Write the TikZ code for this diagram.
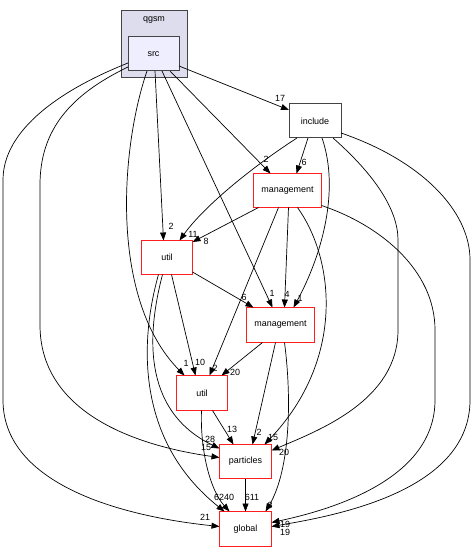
\documentclass[tikz,border=0pt]{standalone}
\usepackage{fontspec}
\setmainfont{Liberation Sans}
\usetikzlibrary{arrows.meta,calc}
\definecolor{clfill}{RGB}{221,221,238}
\definecolor{srcfill}{RGB}{238,238,255}
\definecolor{dkgray}{RGB}{68,68,68}
\definecolor{boxred}{RGB}{255,30,30}
\begin{document}
\begin{tikzpicture}[x=1bp,y=-1bp,
  every node/.style={font=\fontsize{9}{10}\selectfont, inner sep=0pt},
  redbox/.style={minimum width=51bp, minimum height=34bp, outer sep=0pt},
  redframe/.style={color=boxred, line width=1.2bp},
  plainbox/.style={draw=dkgray, line width=1bp, minimum width=52bp, minimum height=34bp},
  srcbox/.style={draw=dkgray, fill=srcfill, line width=1bp, minimum width=51bp, minimum height=34bp},
  clusterbox/.style={draw=dkgray, fill=clfill, line width=1bp, minimum width=66bp, minimum height=67bp},
  edge/.style={draw=black, line width=0.7bp, -{Triangle[length=8bp,width=6bp]}},
  lbl/.style={font=\fontsize{9}{10}\selectfont}
]
\path[use as bounding box] (0,0) rectangle (474,550);

% nodes
\node[clusterbox] (qgsm) at (154,44.5) {};
\node (qgsmlabel) at (154,20) {qgsm};
\node[srcbox] (src) at (153.5,54) {src};
\node[plainbox] (include) at (315,121) {include};
\node[redbox, minimum width=68bp] (mgmtA) at (287.5,190.5) {management};
\node[redbox] (utilA) at (167,257.5) {util};
\node[redbox, minimum width=68bp, minimum height=35bp] (mgmtB) at (280.5,325) {management};
\node[redbox, minimum height=35bp] (utilB) at (202,393) {util};
\node[redbox, minimum width=52bp] (particles) at (245.5,461.5) {particles};
\node[redbox, minimum width=52bp, minimum height=35bp] (global) at (245.5,529) {global};

% red frames
\draw[redframe] (mgmtA.north west) rectangle (mgmtA.south east);
\draw[redframe] (utilA.north west) rectangle (utilA.south east);
\draw[redframe] (mgmtB.north west) rectangle (mgmtB.south east);
\draw[redframe] (utilB.north west) rectangle (utilB.south east);
\draw[redframe] (particles.north west) rectangle (particles.south east);
\draw[redframe] (global.north west) rectangle (global.south east);

% edges
\draw[edge] ($(src)+(25.5,12)$) -- ($(include)+(-26,-11)$);
\draw[edge] ($(src)+(16.5,17)$) -- ($(mgmtA)+(-17,-17)$);
\draw[edge] ($(include)+(-7,17)$) -- ($(mgmtA)+(9,-17)$);
\draw[edge] ($(include)+(-18,17)$) .. controls (255,165) and (205,205) .. ($(utilA)+(12.5,-17)$);
\draw[edge] ($(mgmtA)+(-29,17)$) -- ($(utilA)+(25.5,-15.5)$);
\draw[edge] ($(src)+(1.5,17)$) -- ($(utilA)+(-3.5,-17)$);
\draw[edge] ($(src)+(8.5,17)$) -- ($(mgmtB)+(-8,-17.5)$);
\draw[edge] ($(mgmtA)+(1,17)$) -- ($(mgmtB)+(4,-17.5)$);
\draw[edge] ($(include)+(7,17)$) .. controls (340,190) and (322,255) .. ($(mgmtB)+(13,-17.5)$);
\draw[edge] ($(utilA)+(25.5,14.5)$) -- ($(mgmtB)+(-27,-17.5)$);
\draw[edge] ($(src)+(-6.5,17)$) .. controls (120,150) and (110,300) .. ($(utilB)+(-17.5,-17.5)$);
\draw[edge] ($(utilA)+(4.5,17)$) -- ($(utilB)+(-6.5,-17.5)$);
\draw[edge] ($(mgmtA)+(-9,17)$) -- ($(utilB)+(7.5,-17.5)$);
\draw[edge] ($(mgmtB)+(-18,17.5)$) -- ($(utilB)+(19.5,-17.5)$);
\draw[edge] ($(src)+(-25.5,13)$) .. controls (70,95) and (40,130) .. (40,185) -- (40,325) .. controls (40,410) and (130,445) .. ($(particles)+(-26,-4)$);
\draw[edge] ($(src)+(-25.5,9)$) .. controls (60,90) and (3,130) .. (3,180) -- (3,400) .. controls (3,480) and (110,515) .. ($(global)+(-26,-2.5)$);
\draw[edge] ($(utilA)+(-4.5,17)$) .. controls (148,330) and (140,410) .. ($(particles)+(-26,-13)$);
\draw[edge] ($(utilA)+(-8.5,17)$) .. controls (140,340) and (135,440) .. ($(global)+(-21,-17.5)$);
\draw[edge] ($(utilB)+(-0.5,17.5)$) .. controls (200,450) and (210,490) .. ($(global)+(-16,-17.5)$);
\draw[edge] ($(utilB)+(10.5,17.5)$) -- ($(particles)+(-12,-17)$);
\draw[edge] ($(mgmtB)+(-5,17.5)$) -- ($(particles)+(7,-17)$);
\draw[edge] ($(mgmtB)+(4,17.5)$) .. controls (292,400) and (290,470) .. ($(global)+(20,-17.5)$);
\draw[edge] ($(mgmtA)+(10,17)$) .. controls (335,260) and (345,360) .. ($(particles)+(19,-17)$);
\draw[edge] ($(include)+(18,17)$) .. controls (375,175) and (398,210) .. (398,240) -- (398,330) .. controls (398,400) and (320,430) .. ($(particles)+(26,-11)$);
\draw[edge] ($(mgmtA)+(34,15)$) .. controls (380,225) and (435,270) .. (435,330) -- (435,400) .. controls (435,480) and (330,510) .. ($(global)+(26,-6.5)$);
\draw[edge] ($(include)+(26,12)$) .. controls (420,160) and (470,210) .. (470,260) -- (470,400) .. controls (470,490) and (340,515) .. ($(global)+(26,-2.5)$);
\draw[edge] ($(particles)+(0,17)$) -- ($(global)+(0,-17.5)$);

% labels
\node[lbl] (l1) at (280,98) {17};
\node[lbl] (l2) at (266,159) {2};
\node[lbl] (l3) at (304,162) {6};
\node[lbl] (l4) at (171,226) {2};
\node[lbl] (l5) at (193,234) {11};
\node[lbl] (l6) at (206,241) {8};
\node[lbl] (l7) at (272,293) {1};
\node[lbl] (l8) at (287,294) {4};
\node[lbl] (l9) at (300,298) {1};
\node[lbl] (l10) at (244,297) {6};
\node[lbl] (l11) at (186,363) {1};
\node[lbl] (l12) at (200,362) {10};
\node[lbl] (l13) at (215,368) {2};
\node[lbl] (l14) at (235,372) {20};
\node[lbl] (l15) at (232,429) {13};
\node[lbl] (l16) at (259,432) {2};
\node[lbl] (l17) at (273,437) {15};
\node[lbl] (l18) at (284,452) {20};
\node[lbl] (l19) at (210,439) {28};
\node[lbl] (l20) at (206,447) {15};
\node[lbl] (l21) at (219,497) {62};
\node[lbl] (l22) at (229,497) {40};
\node[lbl] (l23) at (252,497) {611};
\node[lbl] (l24) at (270,505) {8};
\node[lbl] (l25) at (205,517) {21};
\node[lbl] (l26) at (285,524) {19};
\node[lbl] (l27) at (285,532) {19};
\end{tikzpicture}
\end{document}
